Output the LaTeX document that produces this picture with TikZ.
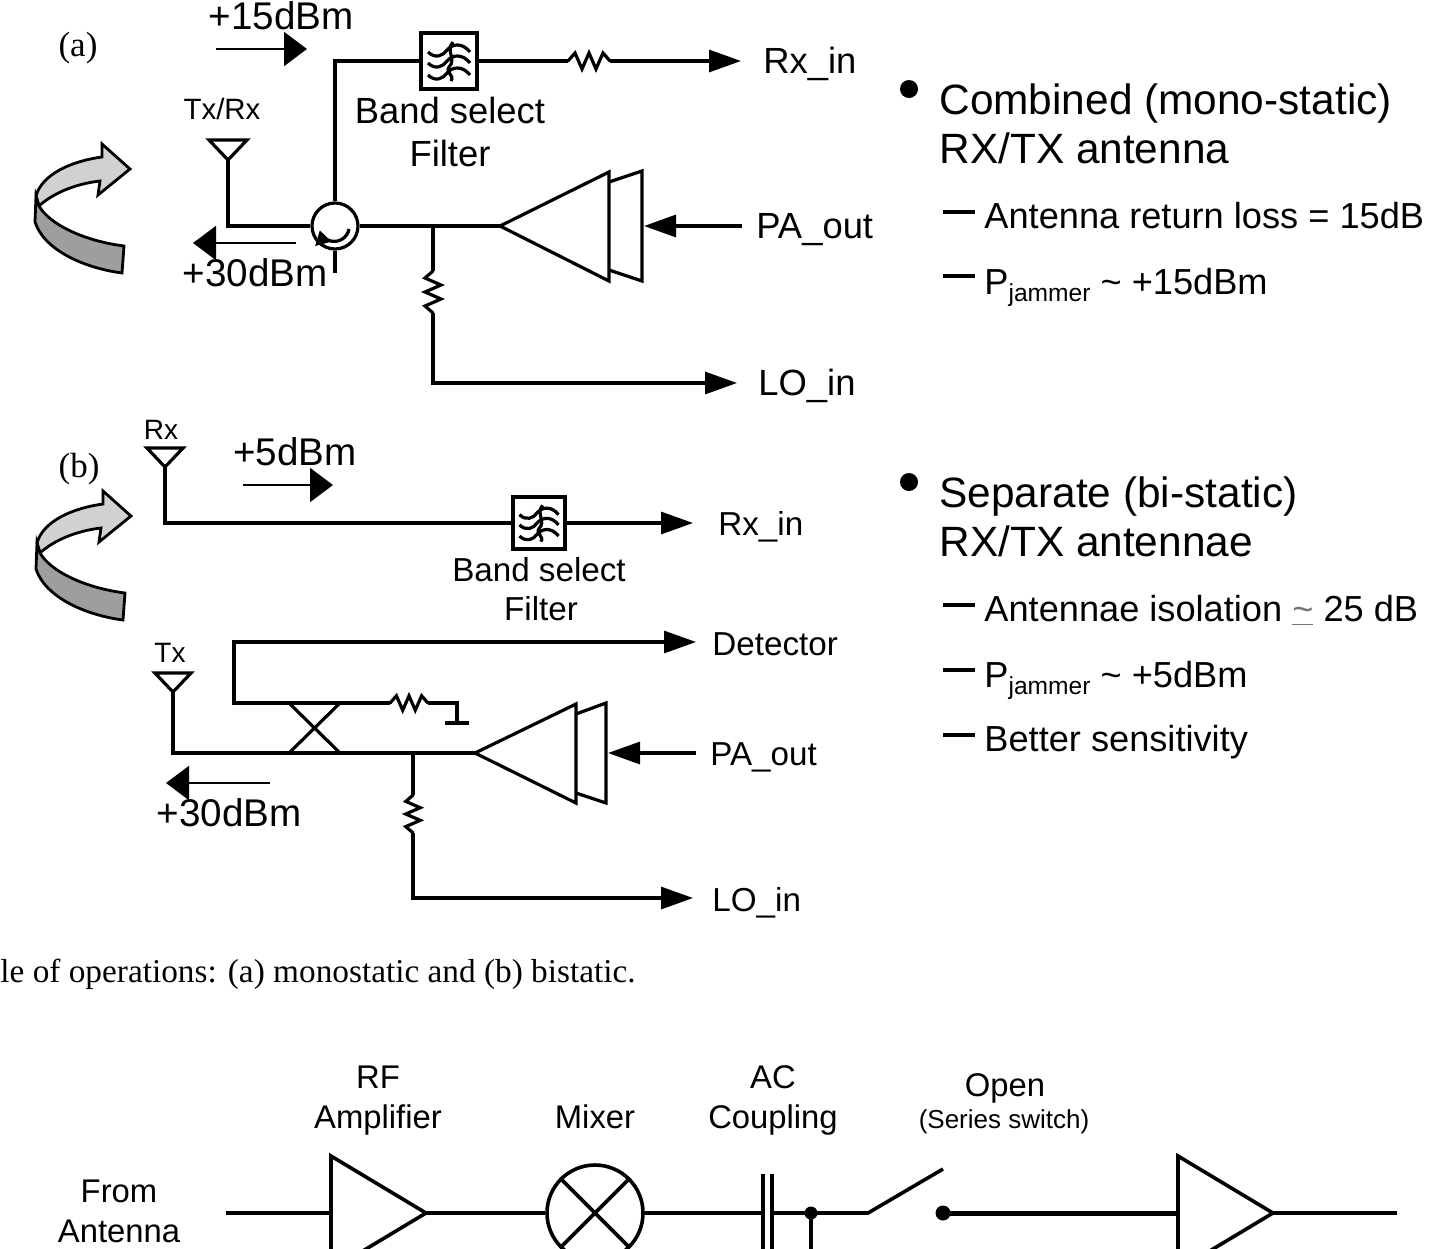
\documentclass[tikz,border=0pt]{standalone}
\usepackage{fontspec}
\setmainfont{Liberation Serif}
\setsansfont{Liberation Sans}
\usetikzlibrary{arrows.meta}
\newcommand{\fs}[1]{\sffamily\fontsize{#1}{#1}\selectfont}
\tikzset{
  wire/.style={line width=1.6pt, line join=miter},
  chain/.style={line width=1.8pt, line join=miter},
  thin wire/.style={line width=1.1pt},
  fat wire/.style={line width=2.5pt},
  wtip/.style={wire, -{Triangle[length=16pt,width=11pt]}},
  power/.style={thin wire, -{Triangle[length=11.5pt,width=17pt]}},
  stub/.style={line width=2pt},
  lab/.style={inner sep=0pt, anchor=mid west, yshift=-4pt, font=\fs{18.2}},
  labb/.style={inner sep=0pt, anchor=mid west, yshift=-3.7pt, font=\fs{16.6}},
  ctr/.style={inner sep=0pt, anchor=mid, yshift=-4pt, font=\fs{18.2}},
  ctrb/.style={inner sep=0pt, anchor=mid, yshift=-3.7pt, font=\fs{16.6}},
  dbm/.style={inner sep=0pt, anchor=mid, yshift=-4pt, font=\fs{19.3}},
  bot/.style={inner sep=0pt, anchor=mid, yshift=-3.7pt, font=\fs{16.4}},
  ant/.style={inner sep=0pt, anchor=mid, yshift=-2.7pt, font=\fs{14.7}},
  hd/.style={inner sep=0pt, anchor=mid west, yshift=-5pt, font=\fs{21.2}},
  item/.style={inner sep=0pt, anchor=mid west, yshift=-4pt, font=\fs{18.1}},
  ser/.style={inner sep=0pt, anchor=mid, yshift=-3pt, font=\rmfamily\fontsize{17.5}{18}\selectfont},
  dot/.style={circle, fill=black, inner sep=0pt, minimum size=#1},
  resistor/.pic={
    \draw[wire, line cap=round] (-21,0) -- (-14,-8) -- (-7,8) -- (0,-8) -- (7,8) -- (14,-8) -- (21,0);
  },
  antenna/.pic={
    \draw[wire] (-19,-20) -- (19,-20) -- (0,0) -- cycle;
    \fill (0,14) circle[radius=1.6];
  },
  filter/.pic={
    \draw[wire] (-28,-28) rectangle (28,28);
    \foreach \w in {-11,0,12}
      \draw[wire] (-21,\w+2) .. controls (-14,\w+9) and (-6,\w+6) .. (-2,\w)
        .. controls (3,\w-6) and (13,\w-8) .. (21,\w+2);
    \draw[wire] (4,-19) .. controls (-4,-10) and (8,-2) .. (0,6) .. controls (-4,12) and (6,14) .. (2,20);
  },
  swirl/.pic={
    \draw[line width=1.4pt, fill=black!18, line join=miter] (36,196)
      .. controls (42,174) and (72,161) .. (102,157) -- (102,144) -- (130,169)
      -- (98,195) -- (100,181) .. controls (74,184) and (52,194) .. (39,206) -- cycle;
    \draw[line width=1.4pt, fill=black!38, line join=miter] (39,206)
      .. controls (50,225) and (85,241) .. (124,246) -- (122,273)
      .. controls (84,268) and (44,250) .. (35,222) -- (36,196) -- cycle;
  },
}
\begin{document}
\begin{tikzpicture}[x=0.5pt, y=-0.5pt]
\clip (0,0) rectangle (1433,1248);

% (a) monostatic
\node[ser] (tagA) at (78,46) {(a)};
\pic at (0,0) {swirl};
\node[dbm] (dbmA) at (281,17) {+15dBm};
\draw[power] (216,49) coordinate (pA) -- (307,49) coordinate (pB);
\node[ant] (txrx) at (222,110) {Tx/Rx};
\pic at (228,160) {antenna};
\coordinate (antA) at (228,160);
\coordinate (antAd) at (228,226);
\node[circle, draw, line width=1.6pt, inner sep=0pt, minimum size=23pt] (circ) at (335,226) {};
\draw[wire] (antA) -- (antAd) -- (circ.west);
\draw[wire] (circ.south) -- ++(0,22);
\draw[wire, -{Triangle[length=7pt,width=8pt]}] (349,229) arc[start angle=10, end angle=165, radius=15];
\coordinate (upA) at (335,61);
\pic at (449,61) {filter};
\coordinate (filtAw) at (421,61);
\coordinate (filtAe) at (477,61);
\coordinate (resAw) at (568,61);
\coordinate (resAe) at (610,61);
\node[lab] (rxA) at (763,61) {Rx\_in};
\draw[wire] (circ.north) -- (upA) -- (filtAw);
\draw[wire] (filtAe) -- (resAw);
\pic at (589,61) {resistor};
\draw[wtip] (resAe) -- (741,61);
\node[ctr] (bandA) at (450,111) {Band select};
\node[ctr] (filtA) at (450,154) {Filter};
\node[dbm] (dbmB) at (255,274) {+30dBm};
\draw[power] (296,243) -- (193,243);
\coordinate (ampA) at (500,226);
\draw[wire] (ampA) -- (609,172) -- (609,281) -- cycle;
\draw[wire] (609,182) -- (642,171) -- (642,281) -- (609,270);
\draw[wire] (circ.east) -- (ampA);
\node[lab] (paA) at (756,226) {PA\_out};
\draw[wtip] (742,226) -- (644,226);
\coordinate (brA) at (433,226);
\coordinate (resBn) at (433,271);
\coordinate (resBs) at (433,313);
\draw[wire] (brA) -- (resBn);
\pic[rotate=90] at (433,292) {resistor};
\draw[wtip] (resBs) -- (433,383) -- (737,383);
\node[lab] (loA) at (758,383) {LO\_in};

% (b) bistatic
\node[ser] (tagB) at (79,467) {(b)};
\pic at (1,347) {swirl};
\node[ant, font=\fs{14}] (rx) at (161,430) {Rx};
\pic[scale=0.95] at (165,467) {antenna};
\coordinate (antB) at (165,467);
\coordinate (antBd) at (165,523);
\node[dbm] (dbmC) at (295,453) {+5dBm};
\draw[power] (243,485) -- (333,485);
\pic[scale=0.93] at (539,523) {filter};
\draw[wire] (antB) -- (antBd) -- (513,523);
\draw[wtip] (565,523) -- (693,523);
\node[labb] (rxB) at (718,523) {Rx\_in};
\node[ctrb] (bandB) at (539,569) {Band select};
\node[ctrb] (filtB) at (541,608) {Filter};
\node[ant, font=\fs{14}] (tx) at (170,652) {Tx};
\pic[scale=0.95] at (173,692) {antenna};
\coordinate (antC) at (173,692);
\coordinate (antCd) at (173,753);
\coordinate (ampB) at (475,753);
\draw[wire] (antC) -- (antCd) -- (ampB);
\draw[wire] (289,753) -- (340,703) (289,703) -- (340,753);
\coordinate (cplW) at (234,703);
\coordinate (cplN) at (234,642);
\coordinate (resCw) at (390,703);
\coordinate (resCe) at (428,703);
\coordinate (gnd) at (457,723);
\draw[wtip] (resCw) -- (cplW) -- (cplN) -- (696,642);
\pic[scale=0.9] at (409,703) {resistor};
\draw[wire] (resCe) -- (457,703) -- (gnd);
\draw[wire] (445,723) -- (469,723);
\node[labb] (det) at (712,643) {Detector};
\draw[wire] (ampB) -- (576,704) -- (576,803) -- cycle;
\draw[wire] (576,714) -- (606,703) -- (606,803) -- (576,793);
\draw[wtip] (696,753) -- (608,753);
\node[labb] (paB) at (710,753) {PA\_out};
\node[dbm] (dbmD) at (229,814) {+30dBm};
\draw[power] (270,783) -- (166,783);
\coordinate (brB) at (413,753);
\coordinate (resDn) at (413,795);
\coordinate (resDs) at (413,833);
\draw[wire] (brB) -- (resDn);
\pic[rotate=90, scale=0.9] at (413,814) {resistor};
\draw[wtip] (resDs) -- (413,898) -- (693,898);
\node[labb] (loB) at (712,899) {LO\_in};

% bullets
\foreach \x/\y in {909/89, 909/482}
  \fill (\x,\y) circle[radius=9];
\foreach \y in {212,276,605,670,735}
  \draw[stub] (943,\y) -- (975,\y);
\node[hd] (hdA) at (939,100) {Combined (mono-static)};
\node[hd] (hdAb) at (939,149) {RX/TX antenna};
\node[item] (itA) at (984,216) {Antenna return loss = 15dB};
\node[item] (itB) at (984,282) {P\raisebox{-3.5pt}{\fs{12.3}jammer} \textasciitilde{} +15dBm};
\node[hd] (hdB) at (939,493) {Separate (bi-static)};
\node[hd] (hdBb) at (939,542) {RX/TX antennae};
\node[item] (itC) at (984,609) {Antennae isolation {\color{black!55}\underline{\textasciitilde}} 25 dB};
\node[item] (itD) at (984,675) {P\raisebox{-3.5pt}{\fs{12.3}jammer} \textasciitilde{} +5dBm};
\node[item] (itE) at (984,739) {Better sensitivity};

\node[inner sep=0pt, anchor=mid west, yshift=-3.5pt, font=\rmfamily\fontsize{16.65}{18}\selectfont] (capt) at (0,971) {le of operations: (a) monostatic and (b) bistatic.};

% bottom chain
\node[bot] (from) at (119,1190) {From};
\node[bot] (anten) at (119,1230) {Antenna};
\node[bot] (rf) at (378,1076) {RF};
\node[bot] (amp) at (378,1116) {Amplifier};
\node[bot] (mix) at (595,1116) {Mixer};
\node[bot] (ac) at (773,1076) {AC};
\node[bot] (coup) at (773,1116) {Coupling};
\node[bot] (open) at (1005,1084) {Open};
\node[bot, yshift=1.2pt, font=\fs{13}] (sers) at (1004,1119) {(Series switch)};
\coordinate (ampC) at (426,1213);
\coordinate (ampD) at (1273,1213);
\draw[chain] (331,1156) -- (ampC) -- (331,1270) -- cycle;
\draw[chain] (1178,1156) -- (ampD) -- (1178,1270) -- cycle;
\node[circle, draw, line width=1.8pt, inner sep=0pt, minimum size=48pt] (mixer) at (595,1213) {};
\draw[chain] (mixer.north west) -- (mixer.south east) (mixer.north east) -- (mixer.south west);
\draw[chain] (226,1213) -- (331,1213);
\draw[chain] (ampC) -- (mixer.west);
\draw[chain] (mixer.east) -- (763,1213);
\draw[chain] (763,1174) -- (763,1260) (772,1174) -- (772,1260);
\coordinate (swA) at (868,1213);
\node[dot=6.5pt] (tapC) at (811,1213) {};
\node[dot=7.5pt] (swB) at (943,1213) {};
\draw[chain] (772,1213) -- (swA) -- (943,1169);
\draw[chain] (tapC.center) -- (811,1260);
\draw[fat wire] (swB.center) -- (1178,1213);
\draw[chain] (ampD) -- (1397,1213);
\end{tikzpicture}
\end{document}
